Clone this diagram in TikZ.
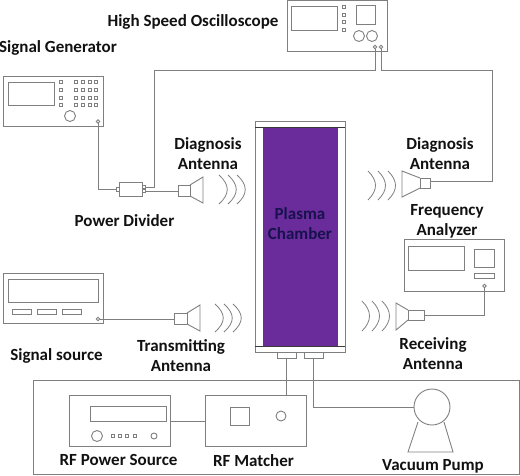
\documentclass[tikz,border=0pt]{standalone}
\usepackage{fontspec}
\setmainfont{Carlito}
\usetikzlibrary{positioning, calc}
\definecolor{WireColor}{HTML}{7F7F7F}
\definecolor{PlasmaColor}{HTML}{6A2C9A}
\definecolor{PlasmaText}{HTML}{17124E}
\definecolor{LabelColor}{HTML}{111111}
\definecolor{FlangeColor}{HTML}{3A3A3A}

\begin{document}
\begin{tikzpicture}[
        x=1pt, y=-1pt,
        wire/.style={draw=WireColor, line width=0.9pt},
        devbox/.style={rectangle, draw=WireColor, fill=white, line width=0.9pt, inner sep=0pt, outer sep=0pt, minimum width=#1},
        devbox/.default=100pt,
        instr/.style={devbox, minimum height=50pt},
        panel/.style={rectangle, draw=WireColor, fill=white, line width=0.9pt, inner sep=0pt, outer sep=0pt},
        knob/.style={circle, draw=WireColor, fill=white, line width=0.9pt, inner sep=0pt, outer sep=0pt, minimum size=#1},
        port/.style={knob=3.5pt},
        btn/.style={panel, minimum width=2.8pt, minimum height=2.8pt, line width=0.7pt},
        wave/.style={draw=WireColor, line width=0.8pt},
        lbl/.style={align=center, font=\bfseries\fontsize{17}{20}\selectfont, text=LabelColor, inner sep=0pt}
      ]
        \useasboundingbox (0,0) rectangle (520,475);

        % oscilloscope
        \node[instr, minimum width=100pt, minimum height=51pt] (osc) at (337,25.7) {};
        \node[panel, minimum width=46pt, minimum height=24pt] (oscscreen) at (314,18) {};
        \node[panel, minimum width=19pt, minimum height=19pt] (oscsq) at (365.5,14.5) {};
        \foreach \y in {7,15,22,30} \node[btn] (oscb\y) at (344,\y) {};
        \node[knob=11pt] (oscka) at (359,36) {};
        \node[knob=11pt, right=2pt of oscka] (osckb) {};
        \node[port] (oscA) at (375,47) {};
        \node[port] (oscB) at (381,47) {};
        \node[lbl] (osclbl) at (193,22) {High Speed Oscilloscope};

        % signal generator
        \node[instr] (gen) at (53.7,101) {};
        \node[panel, minimum width=46pt, minimum height=23pt] (genscreen) at (31,93.5) {};
        \foreach \y in {82,90,98,105} {
          \foreach \x in {61,76,83,90,96} \node[btn] (genb\x\y) at (\x,\y) {};
        }
        \node[knob=11pt] (genknob) at (70,116) {};
        \node[port] (genport) at (98,121.5) {};
        \node[lbl] (genlbl) at (58,48) {Signal Generator};

        % power divider
        \node[panel, minimum width=23pt, minimum height=14pt] (div) at (130.5,189) {};
        \node[panel, minimum width=3pt, minimum height=4pt, left=0pt of div] (divin) {};
        \node[panel, minimum width=3pt, minimum height=3.5pt] (divup) at (143.5,187) {};
        \node[panel, minimum width=3pt, minimum height=3.5pt] (divdn) at (143.5,191) {};
        \node[lbl] (divlbl) at (124.5,221) {Power Divider};

        % horns
        \node[panel, minimum width=12pt, minimum height=11pt] (hdl) at (184,190.5) {};
        \node[panel, minimum width=13pt, minimum height=11pt] (htx) at (180.5,318.5) {};
        \node[panel, minimum width=10pt, minimum height=10pt] (hdr) at (425,183) {};
        \node[panel, minimum width=16pt, minimum height=10pt] (hrx) at (416,315) {};
        \draw[wire] (hdl.north east) -- ++(13,-8) -- ++(0,26) -- (hdl.south east);
        \draw[wire] (htx.north east) -- ++(13,-8) -- ++(0,26) -- (htx.south east);
        \draw[wire] (hdr.north west) -- ++(-18,-7) -- ++(0,26) -- (hdr.south west);
        \draw[wire] (hrx.north west) -- ++(-12,-7) -- ++(0,27) -- (hrx.south west);

        % waves
        \foreach \x in {219,228,237} \draw[wave] (\x,175) .. controls (\x+11,185) and (\x+11,194) .. (\x,204);
        \foreach \x in {215,224,233} \draw[wave] (\x,304) .. controls (\x+11,314) and (\x+11,322) .. (\x,332);
        \foreach \x in {368,378,388} \draw[wave] (\x,171) .. controls (\x+10,181) and (\x+10,190) .. (\x,200);
        \foreach \x in {362,372,382} \draw[wave] (\x,301) .. controls (\x+10,311) and (\x+10,321) .. (\x,331);

        \node[lbl] (hdllbl) at (208,153.5) {Diagnosis\\Antenna};
        \node[lbl] (hdrlbl) at (440,153.5) {Diagnosis\\Antenna};
        \node[lbl] (htxlbl) at (181,355.5) {Transmitting\\Antenna};
        \node[lbl] (hrxlbl) at (433,353.5) {Receiving\\Antenna};

        % chamber
        \node[devbox=90pt, minimum height=231pt] (chamber) at (300,236.5) {};
        \node[rectangle, fill=PlasmaColor, inner sep=0pt, minimum width=75pt, minimum height=218pt] (plasma) at (300.5,237) {};
        \node[lbl, text=PlasmaText] (plasmalbl) at (300,224) {Plasma\\Chamber};
        \draw[FlangeColor, line width=1.1pt] (chamber.west |- plasma.north) -- (chamber.east |- plasma.north);
        \draw[FlangeColor, line width=1.1pt] (chamber.west |- plasma.south) -- (chamber.east |- plasma.south);
        \node[panel, minimum width=19pt, minimum height=6pt] (cona) at (286.5,355) {};
        \node[panel, minimum width=19pt, minimum height=6pt] (conb) at (313.5,355) {};

        % frequency analyzer
        \node[instr, minimum height=52pt] (fa) at (454,265) {};
        \node[panel, minimum width=56pt, minimum height=24pt] (fascreen) at (436,258) {};
        \node[panel, minimum width=20pt, minimum height=18pt] (fasq) at (484,258) {};
        \node[panel, minimum width=20pt, minimum height=5pt] (faslot) at (484,275.5) {};
        \node[port] (faport) at (484.5,286) {};
        \node[lbl] (falbl) at (447,221.5) {Frequency\\Analyzer};

        % signal source
        \node[instr] (src) at (53.7,298) {};
        \node[panel, minimum width=90pt, minimum height=23pt] (srcscreen) at (53,290.5) {};
        \foreach \x in {22,47,72} \node[panel, minimum width=19.5pt, minimum height=5pt] (srcb\x) at (\x,311.5) {};
        \node[port] (srcport) at (98,319) {};
        \node[lbl] (srclbl) at (56.5,355.5) {Signal source};

        % rf and vacuum group
        \node[rectangle, draw=WireColor, line width=0.9pt, inner sep=0pt, minimum width=486pt, minimum height=94pt] (rack) at (276,427) {};
        \node[instr, minimum width=101pt, minimum height=51pt] (rfp) at (119.5,420.5) {};
        \node[panel, minimum width=76pt, minimum height=14.5pt] (rfpscreen) at (128,413.7) {};
        \node[knob=11pt] (rfpknob) at (97,436) {};
        \node[knob=6pt] (rfpsmall) at (154,436) {};
        \foreach \x in {113,120,127,135} \node[btn] (rfpb\x) at (\x,436) {};
        \node[instr, minimum width=101pt, minimum height=51pt] (rfm) at (255.5,420.5) {};
        \node[panel, minimum width=19pt, minimum height=18pt] (rfmsq) at (239.5,416) {};
        \node[knob=10pt] (rfmknob) at (281,416) {};
        \node[lbl, below=8pt of rfp, xshift=-1pt] (rfplbl) {RF Power Source};
        \node[lbl, below=8pt of rfm, xshift=-2pt] (rfmlbl) {RF Matcher};

        % pump
        \node[knob=36pt] (pump) at (432,407) {};
        \coordinate (legla) at (418,422);
        \coordinate (leglb) at (408,452);
        \coordinate (legrb) at (453,452);
        \coordinate (legra) at (444,422);
        \draw[wire] (legla) -- (leglb) -- (legrb) -- (legra);
        \node[lbl] (pumplbl) at (433,466.5) {Vacuum Pump};

        % connectors
        \coordinate (bendl) at (154,70);
        \coordinate (bendr) at (492,70);
        \draw[wire] (genport) |- (divin.west);
        \draw[wire] (divup.east) -| (bendl) -| (oscA);
        \draw[wire] (divdn.east) -- (hdl.west |- divdn.east);
        \draw[wire] (oscB) |- (bendr) |- ([yshift=2pt]hdr.east);
        \draw[wire] (srcport) -- (htx.west |- srcport);
        \draw[wire] (faport) |- (hrx.east);
        \draw[wire] (rfp.east |- rfpscreen.south) -- (rfm.west |- rfpscreen.south);
        \draw[wire] (cona.south) -- (rfm.north -| cona.south);
        \draw[wire] (conb.south) |- (pump.west);
      \end{tikzpicture}
\end{document}
